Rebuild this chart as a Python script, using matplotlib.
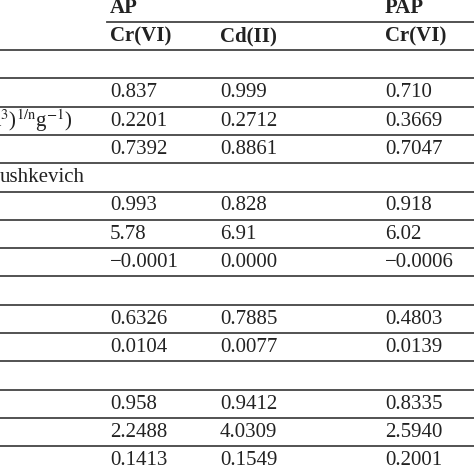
import matplotlib
matplotlib.use("Agg")
import matplotlib.pyplot as plt

plt.rcParams['font.family'] = ['Liberation Serif', 'DejaVu Serif']
plt.rcParams['mathtext.fontset'] = 'stix'

groups = ["AP", "PAP"]
group_x = [110, 385]
species = ["Cr(VI)", "Cd(II)", "Cr(VI)"]
col_x = [110, 220, 385]
ap_cr = ["", "0.837", "0.2201", "0.7392", "", "0.993", "5.78", "\u22120.0001", "", "0.6326", "0.0104", "", "0.958", "2.2488", "0.1413"]
ap_cd = ["", "0.999", "0.2712", "0.8861", "", "0.828", "6.91", "0.0000", "", "0.7885", "0.0077", "", "0.9412", "4.0309", "0.1549"]
pap_cr = ["", "0.710", "0.3669", "0.7047", "", "0.918", "6.02", "\u22120.0006", "", "0.4803", "0.0139", "", "0.8335", "2.5940", "0.2001"]
left_col = ["", "", r"n$^{3}$)$^{\mathrm{1/n}}$g$^{\mathrm{-1}}$)", "", "ushkevich", "", "", "", "", "", "", "", "", "", ""]

W = H = 474
fig = plt.figure(figsize=(4.74, 4.74), dpi=100)
fig.patch.set_facecolor('white')
ax = fig.add_axes([0, 0, 1, 1])
ax.set_xlim(0, W)
ax.set_ylim(H, 0)
ax.axis('off')

fs = 15
bold = dict(fontsize=fs, fontweight='bold', va='center', ha='left', color='#222222')
norm = dict(fontsize=fs, va='center', ha='left', color='#222222')

for g, x in zip(groups, group_x):
    ax.text(x, 8, g, **bold)
for s, x in zip(species, col_x):
    ax.text(x, 36, s, **bold)

row_y0 = 64.5
step = 28.3
for i, (a, b, c, l) in enumerate(zip(ap_cr, ap_cd, pap_cr, left_col)):
    y = row_y0 + i * step
    for v, x in zip((a, b, c), col_x):
        if v:
            ax.text(x, y, v, **norm)
    if l:
        if l.startswith('u'):
            ax.text(0, y, l, **norm)
        else:
            ax.text(73, y, l, fontsize=fs, va='center', ha='right', color='#222222')

lc = '#444444'
ax.plot([107, W], [22, 22], color=lc, lw=1.3)
for i in range(15):
    y = 50 + i * 28.3
    ax.plot([0, W], [y, y], color=lc, lw=1.3)

fig.savefig("out.png", dpi=100, facecolor='white')
